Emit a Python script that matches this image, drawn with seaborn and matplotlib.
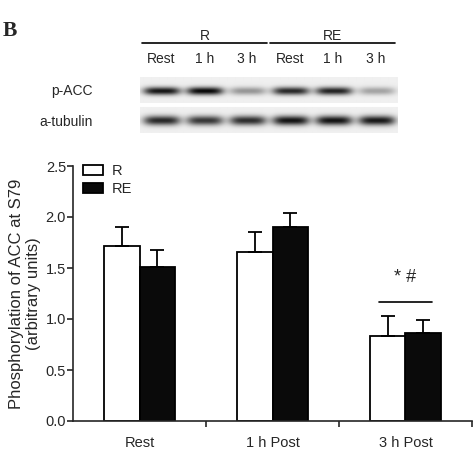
import numpy as np
import pandas as pd
import matplotlib
matplotlib.use("Agg")
import matplotlib.pyplot as plt
import seaborn as sns

# bar chart data
timepoints = ["Rest", "1 h Post", "3 h Post"]
groups = ["R", "RE"]
means_r = [1.72, 1.66, 0.83]
means_re = [1.51, 1.90, 0.86]
sem_r = [0.18, 0.19, 0.20]
sem_re = [0.17, 0.14, 0.13]

# western blot lanes and band darkness (0 = none, 1 = black)
lane_labels = ["Rest", "1 h", "3 h", "Rest", "1 h", "3 h"]
pacc_bands = [0.85, 0.90, 0.35, 0.78, 0.80, 0.30]
tubulin_bands = [0.78, 0.72, 0.76, 0.86, 0.86, 0.84]

W = H = 474


def fx(x):
    return x / W


def fy(y):
    return 1 - y / H


sns.set_style("ticks")
plt.rcParams["font.family"] = ["Liberation Sans", "DejaVu Sans"]

fig = plt.figure(figsize=(4.74, 4.74), dpi=100)

# ---- blot panel ----
bx0, bx1, by0, by1 = 140, 397, 77, 133
img = np.ones((by1 - by0, bx1 - bx0))
img[0:26, :] = 0.94
img[30:56, :] = 0.94
rows = np.arange(img.shape[0])[:, None]
cols = np.arange(img.shape[1])[None, :]
lane_w = (bx1 - bx0) / 6
for i in range(6):
    cx = lane_w * (i + 0.5)
    hx = np.exp(-(np.abs(cols - cx) / (lane_w * 0.43)) ** 4)
    top = pacc_bands[i] * np.exp(-((rows - 13.5) / 4.0) ** 2) * hx
    bot = tubulin_bands[i] * np.exp(-((rows - 43) / 4.8) ** 2) * hx
    img = img - top * (rows < 26) - bot * (rows >= 30)
img = np.clip(img, 0.05, 1)
bax = fig.add_axes([fx(bx0), fy(by1), fx(bx1 - bx0), (by1 - by0) / H])
bax.imshow(img, cmap="gray", vmin=0, vmax=1, aspect="auto", interpolation="bilinear")
bax.axis("off")

fig.text(fx(3), fy(31), "B", fontsize=15.5, fontweight="bold",
         family=["Liberation Serif"], va="center", ha="left")
fig.text(fx(205), fy(36), "R", fontsize=10, ha="center", va="center")
fig.text(fx(333), fy(36), "RE", fontsize=10, ha="center", va="center")
fig.add_artist(plt.Line2D([fx(142), fx(267)], [fy(43), fy(43)], color="black", lw=1.2))
fig.add_artist(plt.Line2D([fx(270), fx(395)], [fy(43), fy(43)], color="black", lw=1.2))
for i, lab in enumerate(lane_labels):
    fig.text(fx(bx0 + lane_w * (i + 0.5)), fy(59), lab, fontsize=10, ha="center", va="center")
fig.text(fx(93), fy(91), "p-ACC", fontsize=10, ha="right", va="center")
fig.text(fx(93), fy(122), "a-tubulin", fontsize=10, ha="right", va="center")

# ---- bar chart ----
df = pd.DataFrame({
    "time": timepoints * 2,
    "group": [groups[0]] * 3 + [groups[1]] * 3,
    "value": means_r + means_re,
})

ax = fig.add_axes([fx(73), fy(421), fx(472 - 73), (421 - 166) / H])
sns.barplot(data=df, x="time", y="value", hue="group", order=timepoints,
            hue_order=groups, palette=["white", "#0a0a0a"], errorbar=None,
            width=0.54, edgecolor="black", linewidth=1.3, ax=ax)

sems = sem_r + sem_re
vals = means_r + means_re
for patch, v, e in zip(ax.patches[:6], vals, sems):
    cx = patch.get_x() + patch.get_width() / 2
    ax.errorbar(cx, v, yerr=[[0], [e]], color="black", lw=1.3, capsize=5, capthick=1.3)

ax.plot([1.80, 2.20], [1.17, 1.17], color="black", lw=1.2)
ax.text(2.0, 1.41, "* #", ha="center", va="center", fontsize=13)

ax.set_xlim(-0.5, 2.5)
ax.set_ylim(0, 2.5)
ax.set_yticks([0, 0.5, 1.0, 1.5, 2.0, 2.5])
ax.set_yticklabels(["0.0", "0.5", "1.0", "1.5", "2.0", "2.5"])
ax.set_xticks([0, 1, 2])
ax.set_xticklabels(timepoints)
ax.tick_params(axis="x", length=0, pad=11, labelsize=10.5)
ax.set_xticks([0.5, 1.5, 2.5], minor=True)
ax.tick_params(axis="x", which="minor", length=4, width=1.2, direction="out")
ax.tick_params(axis="y", length=4, width=1.2, labelsize=10.5, pad=1)
ax.set_xlabel("")
ax.set_ylabel("Phosphorylation of ACC at S79\n(arbitrary units)", fontsize=12, labelpad=3)
sns.despine(ax=ax)
ax.spines["left"].set_linewidth(1.2)
ax.spines["bottom"].set_linewidth(1.2)

ax.legend(loc="upper left", bbox_to_anchor=(0.01, 1.03), frameon=False,
          fontsize=10.5, handlelength=1.35, handleheight=0.65, labelspacing=0.25,
          handletextpad=0.6, borderaxespad=0)

fig.savefig("out.png", dpi=100)
